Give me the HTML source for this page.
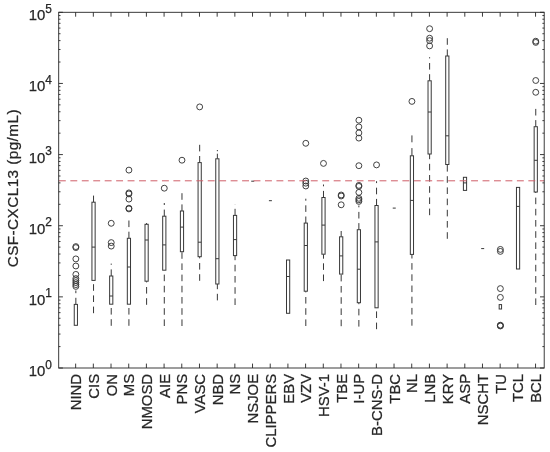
<!DOCTYPE html>
<html><head><meta charset="utf-8"><title>CSF-CXCL13</title>
<style>html,body{margin:0;padding:0;background:#fff}body{width:550px;height:452px;overflow:hidden}</style></head>
<body>
<svg width="550" height="452" viewBox="0 0 550 452" style="display:block">
<rect width="550" height="452" fill="#fff"/>
<g stroke="#383838" stroke-width="1.0" fill="none"><line x1="75.85" y1="304.40" x2="75.85" y2="290.50" stroke-dasharray="6.6 4.6"/><rect x="74.25" y="304.40" width="3.2" height="20.90" fill="#fff"/><line x1="93.54" y1="202.20" x2="93.54" y2="194.50" stroke-dasharray="6.6 4.6"/><line x1="93.54" y1="313.20" x2="93.54" y2="280.40" stroke-dasharray="6.6 4.6"/><rect x="91.94" y="202.20" width="3.2" height="78.20" fill="#fff"/><line x1="91.94" y1="247.10" x2="95.14" y2="247.10"/><line x1="111.23" y1="276.00" x2="111.23" y2="263.60" stroke-dasharray="6.6 4.6"/><line x1="111.23" y1="325.80" x2="111.23" y2="304.20" stroke-dasharray="6.6 4.6"/><rect x="109.63" y="276.00" width="3.2" height="28.20" fill="#fff"/><line x1="109.63" y1="296.00" x2="112.83" y2="296.00"/><line x1="128.92" y1="238.30" x2="128.92" y2="218.00" stroke-dasharray="6.6 4.6"/><line x1="128.92" y1="325.80" x2="128.92" y2="304.20" stroke-dasharray="6.6 4.6"/><rect x="127.32" y="238.30" width="3.2" height="65.90" fill="#fff"/><line x1="127.32" y1="267.00" x2="130.52" y2="267.00"/><line x1="146.60" y1="224.30" x2="146.60" y2="223.00" stroke-dasharray="6.6 4.6"/><line x1="146.60" y1="304.80" x2="146.60" y2="281.20" stroke-dasharray="6.6 4.6"/><rect x="145.00" y="224.30" width="3.2" height="56.90" fill="#fff"/><line x1="145.00" y1="240.00" x2="148.20" y2="240.00"/><line x1="164.29" y1="216.20" x2="164.29" y2="203.00" stroke-dasharray="6.6 4.6"/><line x1="164.29" y1="326.00" x2="164.29" y2="270.20" stroke-dasharray="6.6 4.6"/><rect x="162.69" y="216.20" width="3.2" height="54.00" fill="#fff"/><line x1="162.69" y1="244.90" x2="165.89" y2="244.90"/><line x1="181.98" y1="211.00" x2="181.98" y2="192.00" stroke-dasharray="6.6 4.6"/><line x1="181.98" y1="326.00" x2="181.98" y2="251.70" stroke-dasharray="6.6 4.6"/><rect x="180.38" y="211.00" width="3.2" height="40.70" fill="#fff"/><line x1="180.38" y1="227.10" x2="183.58" y2="227.10"/><line x1="199.67" y1="162.60" x2="199.67" y2="144.80" stroke-dasharray="6.6 4.6"/><line x1="199.67" y1="280.80" x2="199.67" y2="256.70" stroke-dasharray="6.6 4.6"/><rect x="198.07" y="162.60" width="3.2" height="94.10" fill="#fff"/><line x1="198.07" y1="242.20" x2="201.27" y2="242.20"/><line x1="217.36" y1="150.00" x2="217.36" y2="151.20"/><line x1="217.36" y1="153.70" x2="217.36" y2="158.80"/><line x1="217.36" y1="300.40" x2="217.36" y2="284.00" stroke-dasharray="6.6 4.6"/><rect x="215.76" y="158.80" width="3.2" height="125.20" fill="#fff"/><line x1="215.76" y1="258.70" x2="218.96" y2="258.70"/><line x1="235.05" y1="215.40" x2="235.05" y2="204.00" stroke-dasharray="6.6 4.6"/><line x1="235.05" y1="305.00" x2="235.05" y2="255.60" stroke-dasharray="6.6 4.6"/><rect x="233.45" y="215.40" width="3.2" height="40.20" fill="#fff"/><line x1="233.45" y1="239.60" x2="236.65" y2="239.60"/><rect x="286.51" y="260.00" width="3.2" height="53.30" fill="#fff"/><line x1="286.51" y1="276.50" x2="289.71" y2="276.50"/><line x1="305.80" y1="223.10" x2="305.80" y2="198.70" stroke-dasharray="6.6 4.6"/><line x1="305.80" y1="326.00" x2="305.80" y2="291.20" stroke-dasharray="6.6 4.6"/><rect x="304.20" y="223.10" width="3.2" height="68.10" fill="#fff"/><line x1="304.20" y1="245.50" x2="307.40" y2="245.50"/><line x1="323.49" y1="197.50" x2="323.49" y2="184.50" stroke-dasharray="6.6 4.6"/><line x1="323.49" y1="281.10" x2="323.49" y2="254.20" stroke-dasharray="6.6 4.6"/><rect x="321.89" y="197.50" width="3.2" height="56.70" fill="#fff"/><line x1="321.89" y1="225.10" x2="325.09" y2="225.10"/><line x1="341.18" y1="236.80" x2="341.18" y2="231.00" stroke-dasharray="6.6 4.6"/><line x1="341.18" y1="326.20" x2="341.18" y2="274.10" stroke-dasharray="6.6 4.6"/><rect x="339.58" y="236.80" width="3.2" height="37.30" fill="#fff"/><line x1="339.58" y1="255.90" x2="342.78" y2="255.90"/><line x1="358.87" y1="229.70" x2="358.87" y2="205.50" stroke-dasharray="6.6 4.6"/><line x1="358.87" y1="326.60" x2="358.87" y2="302.70" stroke-dasharray="6.6 4.6"/><rect x="357.27" y="229.70" width="3.2" height="73.00" fill="#fff"/><line x1="357.27" y1="269.20" x2="360.47" y2="269.20"/><line x1="376.55" y1="205.50" x2="376.55" y2="181.20" stroke-dasharray="6.6 4.6"/><line x1="376.55" y1="329.20" x2="376.55" y2="307.80" stroke-dasharray="6.6 4.6"/><rect x="374.95" y="205.50" width="3.2" height="102.30" fill="#fff"/><line x1="374.95" y1="241.90" x2="378.15" y2="241.90"/><line x1="411.93" y1="135.40" x2="411.93" y2="142.30"/><line x1="411.93" y1="148.10" x2="411.93" y2="155.80"/><line x1="411.93" y1="325.70" x2="411.93" y2="254.40" stroke-dasharray="6.6 4.6"/><rect x="410.33" y="155.80" width="3.2" height="98.60" fill="#fff"/><line x1="410.33" y1="200.40" x2="413.53" y2="200.40"/><line x1="429.62" y1="80.80" x2="429.62" y2="57.20" stroke-dasharray="6.6 4.6"/><line x1="429.62" y1="215.20" x2="429.62" y2="154.00" stroke-dasharray="6.6 4.6"/><rect x="428.02" y="80.80" width="3.2" height="73.20" fill="#fff"/><line x1="428.02" y1="112.00" x2="431.22" y2="112.00"/><line x1="447.31" y1="56.00" x2="447.31" y2="36.40" stroke-dasharray="6.6 4.6"/><line x1="447.31" y1="238.80" x2="447.31" y2="164.50" stroke-dasharray="6.6 4.6"/><rect x="445.71" y="56.00" width="3.2" height="108.50" fill="#fff"/><line x1="445.71" y1="135.80" x2="448.91" y2="135.80"/><rect x="463.40" y="177.30" width="3.2" height="13.10" fill="#fff"/><line x1="463.40" y1="182.90" x2="466.60" y2="182.90"/><rect x="516.46" y="187.40" width="3.2" height="81.60" fill="#fff"/><line x1="516.46" y1="206.40" x2="519.66" y2="206.40"/><line x1="535.75" y1="126.70" x2="535.75" y2="108.20" stroke-dasharray="6.6 4.6"/><line x1="535.75" y1="305.00" x2="535.75" y2="192.00" stroke-dasharray="6.6 4.6"/><rect x="534.15" y="126.70" width="3.2" height="65.30" fill="#fff"/><line x1="534.15" y1="160.30" x2="537.35" y2="160.30"/><line x1="251.23" y1="181.20" x2="254.23" y2="181.20"/><line x1="268.92" y1="200.70" x2="271.92" y2="200.70"/><line x1="392.74" y1="208.10" x2="395.74" y2="208.10"/><line x1="481.18" y1="248.60" x2="484.18" y2="248.60"/><circle cx="75.85" cy="246.60" r="2.95" stroke-width="0.95" fill="none"/><circle cx="75.85" cy="247.60" r="2.95" stroke-width="0.95" fill="none"/><circle cx="75.85" cy="258.90" r="2.95" stroke-width="0.95" fill="none"/><circle cx="75.85" cy="266.00" r="2.95" stroke-width="0.95" fill="none"/><circle cx="75.85" cy="274.40" r="2.95" stroke-width="0.95" fill="none"/><circle cx="75.85" cy="278.60" r="2.95" stroke-width="0.95" fill="none"/><circle cx="75.85" cy="280.60" r="2.95" stroke-width="0.95" fill="none"/><circle cx="75.85" cy="282.60" r="2.95" stroke-width="0.95" fill="none"/><circle cx="75.85" cy="284.60" r="2.95" stroke-width="0.95" fill="none"/><circle cx="75.85" cy="286.40" r="2.95" stroke-width="0.95" fill="none"/><circle cx="111.23" cy="223.30" r="2.95" stroke-width="0.95" fill="none"/><circle cx="111.23" cy="242.60" r="2.95" stroke-width="0.95" fill="none"/><circle cx="111.23" cy="246.10" r="2.95" stroke-width="0.95" fill="none"/><circle cx="128.92" cy="170.10" r="2.95" stroke-width="0.95" fill="none"/><circle cx="128.92" cy="192.90" r="2.95" stroke-width="0.95" fill="none"/><circle cx="128.92" cy="193.90" r="2.95" stroke-width="0.95" fill="none"/><circle cx="128.92" cy="199.10" r="2.95" stroke-width="0.95" fill="none"/><circle cx="128.92" cy="208.20" r="2.95" stroke-width="0.95" fill="none"/><circle cx="128.92" cy="208.90" r="2.95" stroke-width="0.95" fill="none"/><circle cx="164.29" cy="188.20" r="2.95" stroke-width="0.95" fill="none"/><circle cx="181.98" cy="160.20" r="2.95" stroke-width="0.95" fill="none"/><circle cx="199.67" cy="106.90" r="2.95" stroke-width="0.95" fill="none"/><circle cx="305.80" cy="143.30" r="2.95" stroke-width="0.95" fill="none"/><circle cx="305.80" cy="181.00" r="2.95" stroke-width="0.95" fill="none"/><circle cx="305.80" cy="183.20" r="2.95" stroke-width="0.95" fill="none"/><circle cx="305.80" cy="186.00" r="2.95" stroke-width="0.95" fill="none"/><circle cx="323.49" cy="163.40" r="2.95" stroke-width="0.95" fill="none"/><circle cx="341.18" cy="195.00" r="2.95" stroke-width="0.95" fill="none"/><circle cx="341.18" cy="196.00" r="2.95" stroke-width="0.95" fill="none"/><circle cx="341.18" cy="204.80" r="2.95" stroke-width="0.95" fill="none"/><circle cx="358.87" cy="120.20" r="2.95" stroke-width="0.95" fill="none"/><circle cx="358.87" cy="126.90" r="2.95" stroke-width="0.95" fill="none"/><circle cx="358.87" cy="132.90" r="2.95" stroke-width="0.95" fill="none"/><circle cx="358.87" cy="138.10" r="2.95" stroke-width="0.95" fill="none"/><circle cx="358.87" cy="165.70" r="2.95" stroke-width="0.95" fill="none"/><circle cx="358.87" cy="185.40" r="2.95" stroke-width="0.95" fill="none"/><circle cx="358.87" cy="186.40" r="2.95" stroke-width="0.95" fill="none"/><circle cx="358.87" cy="192.40" r="2.95" stroke-width="0.95" fill="none"/><circle cx="358.87" cy="198.30" r="2.95" stroke-width="0.95" fill="none"/><circle cx="358.87" cy="199.80" r="2.95" stroke-width="0.95" fill="none"/><circle cx="358.87" cy="201.40" r="2.95" stroke-width="0.95" fill="none"/><circle cx="376.55" cy="164.90" r="2.95" stroke-width="0.95" fill="none"/><circle cx="411.93" cy="101.40" r="2.95" stroke-width="0.95" fill="none"/><circle cx="429.62" cy="28.70" r="2.95" stroke-width="0.95" fill="none"/><circle cx="429.62" cy="38.20" r="2.95" stroke-width="0.95" fill="none"/><circle cx="429.62" cy="40.60" r="2.95" stroke-width="0.95" fill="none"/><circle cx="429.62" cy="45.90" r="2.95" stroke-width="0.95" fill="none"/><circle cx="500.37" cy="249.40" r="2.95" stroke-width="0.95" fill="none"/><circle cx="500.37" cy="251.40" r="2.95" stroke-width="0.95" fill="none"/><circle cx="500.37" cy="288.60" r="2.95" stroke-width="0.95" fill="none"/><circle cx="500.37" cy="297.40" r="2.95" stroke-width="0.95" fill="none"/><circle cx="500.37" cy="325.20" r="2.95" stroke-width="0.95" fill="none"/><circle cx="500.37" cy="325.60" r="2.95" stroke-width="0.95" fill="none"/><circle cx="500.37" cy="326.00" r="2.95" stroke-width="0.95" fill="none"/><circle cx="535.75" cy="41.20" r="2.95" stroke-width="0.95" fill="none"/><circle cx="535.75" cy="42.40" r="2.95" stroke-width="0.95" fill="none"/><circle cx="535.75" cy="80.50" r="2.95" stroke-width="0.95" fill="none"/><circle cx="535.75" cy="92.30" r="2.95" stroke-width="0.95" fill="none"/><rect x="499.17" y="304.6" width="2.4" height="4.4" fill="#fff"/></g>
<line x1="58.9" y1="180.8" x2="544.2" y2="180.8" stroke="#cf5f68" stroke-width="1.0" stroke-dasharray="6.9 4.55"/>
<g stroke="#262626" stroke-width="0.9" fill="none"><rect x="58.7" y="12.3" width="485.50" height="355.70" fill="none"/><line x1="75.65" y1="368.0" x2="75.65" y2="363.6"/><line x1="75.65" y1="12.3" x2="75.65" y2="16.700000000000003"/><line x1="93.34" y1="368.0" x2="93.34" y2="363.6"/><line x1="93.34" y1="12.3" x2="93.34" y2="16.700000000000003"/><line x1="111.03" y1="368.0" x2="111.03" y2="363.6"/><line x1="111.03" y1="12.3" x2="111.03" y2="16.700000000000003"/><line x1="128.72" y1="368.0" x2="128.72" y2="363.6"/><line x1="128.72" y1="12.3" x2="128.72" y2="16.700000000000003"/><line x1="146.40" y1="368.0" x2="146.40" y2="363.6"/><line x1="146.40" y1="12.3" x2="146.40" y2="16.700000000000003"/><line x1="164.09" y1="368.0" x2="164.09" y2="363.6"/><line x1="164.09" y1="12.3" x2="164.09" y2="16.700000000000003"/><line x1="181.78" y1="368.0" x2="181.78" y2="363.6"/><line x1="181.78" y1="12.3" x2="181.78" y2="16.700000000000003"/><line x1="199.47" y1="368.0" x2="199.47" y2="363.6"/><line x1="199.47" y1="12.3" x2="199.47" y2="16.700000000000003"/><line x1="217.16" y1="368.0" x2="217.16" y2="363.6"/><line x1="217.16" y1="12.3" x2="217.16" y2="16.700000000000003"/><line x1="234.85" y1="368.0" x2="234.85" y2="363.6"/><line x1="234.85" y1="12.3" x2="234.85" y2="16.700000000000003"/><line x1="252.53" y1="368.0" x2="252.53" y2="363.6"/><line x1="252.53" y1="12.3" x2="252.53" y2="16.700000000000003"/><line x1="270.22" y1="368.0" x2="270.22" y2="363.6"/><line x1="270.22" y1="12.3" x2="270.22" y2="16.700000000000003"/><line x1="287.91" y1="368.0" x2="287.91" y2="363.6"/><line x1="287.91" y1="12.3" x2="287.91" y2="16.700000000000003"/><line x1="305.60" y1="368.0" x2="305.60" y2="363.6"/><line x1="305.60" y1="12.3" x2="305.60" y2="16.700000000000003"/><line x1="323.29" y1="368.0" x2="323.29" y2="363.6"/><line x1="323.29" y1="12.3" x2="323.29" y2="16.700000000000003"/><line x1="340.98" y1="368.0" x2="340.98" y2="363.6"/><line x1="340.98" y1="12.3" x2="340.98" y2="16.700000000000003"/><line x1="358.67" y1="368.0" x2="358.67" y2="363.6"/><line x1="358.67" y1="12.3" x2="358.67" y2="16.700000000000003"/><line x1="376.35" y1="368.0" x2="376.35" y2="363.6"/><line x1="376.35" y1="12.3" x2="376.35" y2="16.700000000000003"/><line x1="394.04" y1="368.0" x2="394.04" y2="363.6"/><line x1="394.04" y1="12.3" x2="394.04" y2="16.700000000000003"/><line x1="411.73" y1="368.0" x2="411.73" y2="363.6"/><line x1="411.73" y1="12.3" x2="411.73" y2="16.700000000000003"/><line x1="429.42" y1="368.0" x2="429.42" y2="363.6"/><line x1="429.42" y1="12.3" x2="429.42" y2="16.700000000000003"/><line x1="447.11" y1="368.0" x2="447.11" y2="363.6"/><line x1="447.11" y1="12.3" x2="447.11" y2="16.700000000000003"/><line x1="464.80" y1="368.0" x2="464.80" y2="363.6"/><line x1="464.80" y1="12.3" x2="464.80" y2="16.700000000000003"/><line x1="482.48" y1="368.0" x2="482.48" y2="363.6"/><line x1="482.48" y1="12.3" x2="482.48" y2="16.700000000000003"/><line x1="500.17" y1="368.0" x2="500.17" y2="363.6"/><line x1="500.17" y1="12.3" x2="500.17" y2="16.700000000000003"/><line x1="517.86" y1="368.0" x2="517.86" y2="363.6"/><line x1="517.86" y1="12.3" x2="517.86" y2="16.700000000000003"/><line x1="535.55" y1="368.0" x2="535.55" y2="363.6"/><line x1="535.55" y1="12.3" x2="535.55" y2="16.700000000000003"/><line x1="58.7" y1="368.00" x2="62.900000000000006" y2="368.00"/><line x1="544.2" y1="368.00" x2="540.0" y2="368.00"/><line x1="58.7" y1="346.58" x2="60.5" y2="346.58"/><line x1="544.2" y1="346.58" x2="542.4000000000001" y2="346.58"/><line x1="58.7" y1="334.06" x2="60.5" y2="334.06"/><line x1="544.2" y1="334.06" x2="542.4000000000001" y2="334.06"/><line x1="58.7" y1="325.17" x2="60.5" y2="325.17"/><line x1="544.2" y1="325.17" x2="542.4000000000001" y2="325.17"/><line x1="58.7" y1="318.28" x2="60.5" y2="318.28"/><line x1="544.2" y1="318.28" x2="542.4000000000001" y2="318.28"/><line x1="58.7" y1="312.64" x2="60.5" y2="312.64"/><line x1="544.2" y1="312.64" x2="542.4000000000001" y2="312.64"/><line x1="58.7" y1="307.88" x2="60.5" y2="307.88"/><line x1="544.2" y1="307.88" x2="542.4000000000001" y2="307.88"/><line x1="58.7" y1="303.75" x2="60.5" y2="303.75"/><line x1="544.2" y1="303.75" x2="542.4000000000001" y2="303.75"/><line x1="58.7" y1="300.12" x2="60.5" y2="300.12"/><line x1="544.2" y1="300.12" x2="542.4000000000001" y2="300.12"/><line x1="58.7" y1="296.86" x2="62.900000000000006" y2="296.86"/><line x1="544.2" y1="296.86" x2="540.0" y2="296.86"/><line x1="58.7" y1="275.44" x2="60.5" y2="275.44"/><line x1="544.2" y1="275.44" x2="542.4000000000001" y2="275.44"/><line x1="58.7" y1="262.92" x2="60.5" y2="262.92"/><line x1="544.2" y1="262.92" x2="542.4000000000001" y2="262.92"/><line x1="58.7" y1="254.03" x2="60.5" y2="254.03"/><line x1="544.2" y1="254.03" x2="542.4000000000001" y2="254.03"/><line x1="58.7" y1="247.14" x2="60.5" y2="247.14"/><line x1="544.2" y1="247.14" x2="542.4000000000001" y2="247.14"/><line x1="58.7" y1="241.50" x2="60.5" y2="241.50"/><line x1="544.2" y1="241.50" x2="542.4000000000001" y2="241.50"/><line x1="58.7" y1="236.74" x2="60.5" y2="236.74"/><line x1="544.2" y1="236.74" x2="542.4000000000001" y2="236.74"/><line x1="58.7" y1="232.61" x2="60.5" y2="232.61"/><line x1="544.2" y1="232.61" x2="542.4000000000001" y2="232.61"/><line x1="58.7" y1="228.98" x2="60.5" y2="228.98"/><line x1="544.2" y1="228.98" x2="542.4000000000001" y2="228.98"/><line x1="58.7" y1="225.72" x2="62.900000000000006" y2="225.72"/><line x1="544.2" y1="225.72" x2="540.0" y2="225.72"/><line x1="58.7" y1="204.30" x2="60.5" y2="204.30"/><line x1="544.2" y1="204.30" x2="542.4000000000001" y2="204.30"/><line x1="58.7" y1="191.78" x2="60.5" y2="191.78"/><line x1="544.2" y1="191.78" x2="542.4000000000001" y2="191.78"/><line x1="58.7" y1="182.89" x2="60.5" y2="182.89"/><line x1="544.2" y1="182.89" x2="542.4000000000001" y2="182.89"/><line x1="58.7" y1="176.00" x2="60.5" y2="176.00"/><line x1="544.2" y1="176.00" x2="542.4000000000001" y2="176.00"/><line x1="58.7" y1="170.36" x2="60.5" y2="170.36"/><line x1="544.2" y1="170.36" x2="542.4000000000001" y2="170.36"/><line x1="58.7" y1="165.60" x2="60.5" y2="165.60"/><line x1="544.2" y1="165.60" x2="542.4000000000001" y2="165.60"/><line x1="58.7" y1="161.47" x2="60.5" y2="161.47"/><line x1="544.2" y1="161.47" x2="542.4000000000001" y2="161.47"/><line x1="58.7" y1="157.84" x2="60.5" y2="157.84"/><line x1="544.2" y1="157.84" x2="542.4000000000001" y2="157.84"/><line x1="58.7" y1="154.58" x2="62.900000000000006" y2="154.58"/><line x1="544.2" y1="154.58" x2="540.0" y2="154.58"/><line x1="58.7" y1="133.16" x2="60.5" y2="133.16"/><line x1="544.2" y1="133.16" x2="542.4000000000001" y2="133.16"/><line x1="58.7" y1="120.64" x2="60.5" y2="120.64"/><line x1="544.2" y1="120.64" x2="542.4000000000001" y2="120.64"/><line x1="58.7" y1="111.75" x2="60.5" y2="111.75"/><line x1="544.2" y1="111.75" x2="542.4000000000001" y2="111.75"/><line x1="58.7" y1="104.86" x2="60.5" y2="104.86"/><line x1="544.2" y1="104.86" x2="542.4000000000001" y2="104.86"/><line x1="58.7" y1="99.22" x2="60.5" y2="99.22"/><line x1="544.2" y1="99.22" x2="542.4000000000001" y2="99.22"/><line x1="58.7" y1="94.46" x2="60.5" y2="94.46"/><line x1="544.2" y1="94.46" x2="542.4000000000001" y2="94.46"/><line x1="58.7" y1="90.33" x2="60.5" y2="90.33"/><line x1="544.2" y1="90.33" x2="542.4000000000001" y2="90.33"/><line x1="58.7" y1="86.70" x2="60.5" y2="86.70"/><line x1="544.2" y1="86.70" x2="542.4000000000001" y2="86.70"/><line x1="58.7" y1="83.44" x2="62.900000000000006" y2="83.44"/><line x1="544.2" y1="83.44" x2="540.0" y2="83.44"/><line x1="58.7" y1="62.02" x2="60.5" y2="62.02"/><line x1="544.2" y1="62.02" x2="542.4000000000001" y2="62.02"/><line x1="58.7" y1="49.50" x2="60.5" y2="49.50"/><line x1="544.2" y1="49.50" x2="542.4000000000001" y2="49.50"/><line x1="58.7" y1="40.61" x2="60.5" y2="40.61"/><line x1="544.2" y1="40.61" x2="542.4000000000001" y2="40.61"/><line x1="58.7" y1="33.72" x2="60.5" y2="33.72"/><line x1="544.2" y1="33.72" x2="542.4000000000001" y2="33.72"/><line x1="58.7" y1="28.08" x2="60.5" y2="28.08"/><line x1="544.2" y1="28.08" x2="542.4000000000001" y2="28.08"/><line x1="58.7" y1="23.32" x2="60.5" y2="23.32"/><line x1="544.2" y1="23.32" x2="542.4000000000001" y2="23.32"/><line x1="58.7" y1="19.19" x2="60.5" y2="19.19"/><line x1="544.2" y1="19.19" x2="542.4000000000001" y2="19.19"/><line x1="58.7" y1="15.56" x2="60.5" y2="15.56"/><line x1="544.2" y1="15.56" x2="542.4000000000001" y2="15.56"/><line x1="58.7" y1="12.30" x2="62.900000000000006" y2="12.30"/><line x1="544.2" y1="12.30" x2="540.0" y2="12.30"/></g>
<g font-family="'Liberation Sans', Arial, Helvetica, sans-serif" fill="#262626" stroke="#262626" stroke-width="0.25"><text x="45.3" y="376.00" text-anchor="end" font-size="14.9">10</text><text x="45.2" y="368.60" font-size="11.9">0</text><text x="45.3" y="304.86" text-anchor="end" font-size="14.9">10</text><text x="45.2" y="297.46" font-size="11.9">1</text><text x="45.3" y="233.72" text-anchor="end" font-size="14.9">10</text><text x="45.2" y="226.32" font-size="11.9">2</text><text x="45.3" y="162.58" text-anchor="end" font-size="14.9">10</text><text x="45.2" y="155.18" font-size="11.9">3</text><text x="45.3" y="91.44" text-anchor="end" font-size="14.9">10</text><text x="45.2" y="84.04" font-size="11.9">4</text><text x="45.3" y="20.30" text-anchor="end" font-size="14.9">10</text><text x="45.2" y="12.90" font-size="11.9">5</text><text transform="translate(81.25,373.9) rotate(-90)" text-anchor="end" font-size="14.9">NIND</text><text transform="translate(98.94,373.9) rotate(-90)" text-anchor="end" font-size="14.9">CIS</text><text transform="translate(116.63,373.9) rotate(-90)" text-anchor="end" font-size="14.9">ON</text><text transform="translate(134.32,373.9) rotate(-90)" text-anchor="end" font-size="14.9">MS</text><text transform="translate(152.00,373.9) rotate(-90)" text-anchor="end" font-size="14.9">NMOSD</text><text transform="translate(169.69,373.9) rotate(-90)" text-anchor="end" font-size="14.9">AIE</text><text transform="translate(187.38,373.9) rotate(-90)" text-anchor="end" font-size="14.9">PNS</text><text transform="translate(205.07,373.9) rotate(-90)" text-anchor="end" font-size="14.9">VASC</text><text transform="translate(222.76,373.9) rotate(-90)" text-anchor="end" font-size="14.9">NBD</text><text transform="translate(240.45,373.9) rotate(-90)" text-anchor="end" font-size="14.9">NS</text><text transform="translate(258.13,373.9) rotate(-90)" text-anchor="end" font-size="14.9">NSJOE</text><text transform="translate(275.82,373.9) rotate(-90)" text-anchor="end" font-size="14.9">CLIPPERS</text><text transform="translate(293.51,373.9) rotate(-90)" text-anchor="end" font-size="14.9">EBV</text><text transform="translate(311.20,373.9) rotate(-90)" text-anchor="end" font-size="14.9">VZV</text><text transform="translate(328.89,373.9) rotate(-90)" text-anchor="end" font-size="14.9">HSV-1</text><text transform="translate(346.58,373.9) rotate(-90)" text-anchor="end" font-size="14.9">TBE</text><text transform="translate(364.27,373.9) rotate(-90)" text-anchor="end" font-size="14.9">I-UP</text><text transform="translate(381.95,373.9) rotate(-90)" text-anchor="end" font-size="14.9">B-CNS-D</text><text transform="translate(399.64,373.9) rotate(-90)" text-anchor="end" font-size="14.9">TBC</text><text transform="translate(417.33,373.9) rotate(-90)" text-anchor="end" font-size="14.9">NL</text><text transform="translate(435.02,373.9) rotate(-90)" text-anchor="end" font-size="14.9">LNB</text><text transform="translate(452.71,373.9) rotate(-90)" text-anchor="end" font-size="14.9">KRY</text><text transform="translate(470.40,373.9) rotate(-90)" text-anchor="end" font-size="14.9">ASP</text><text transform="translate(488.08,373.9) rotate(-90)" text-anchor="end" font-size="14.9">NSCHT</text><text transform="translate(505.77,373.9) rotate(-90)" text-anchor="end" font-size="14.9">TU</text><text transform="translate(523.46,373.9) rotate(-90)" text-anchor="end" font-size="14.9">TCL</text><text transform="translate(541.15,373.9) rotate(-90)" text-anchor="end" font-size="14.9">BCL</text><text transform="translate(17.8,188.2) rotate(-90)" text-anchor="middle" font-size="15.3" letter-spacing="0.43">CSF-CXCL13 (pg/mL)</text></g>
</svg>
</body></html>
